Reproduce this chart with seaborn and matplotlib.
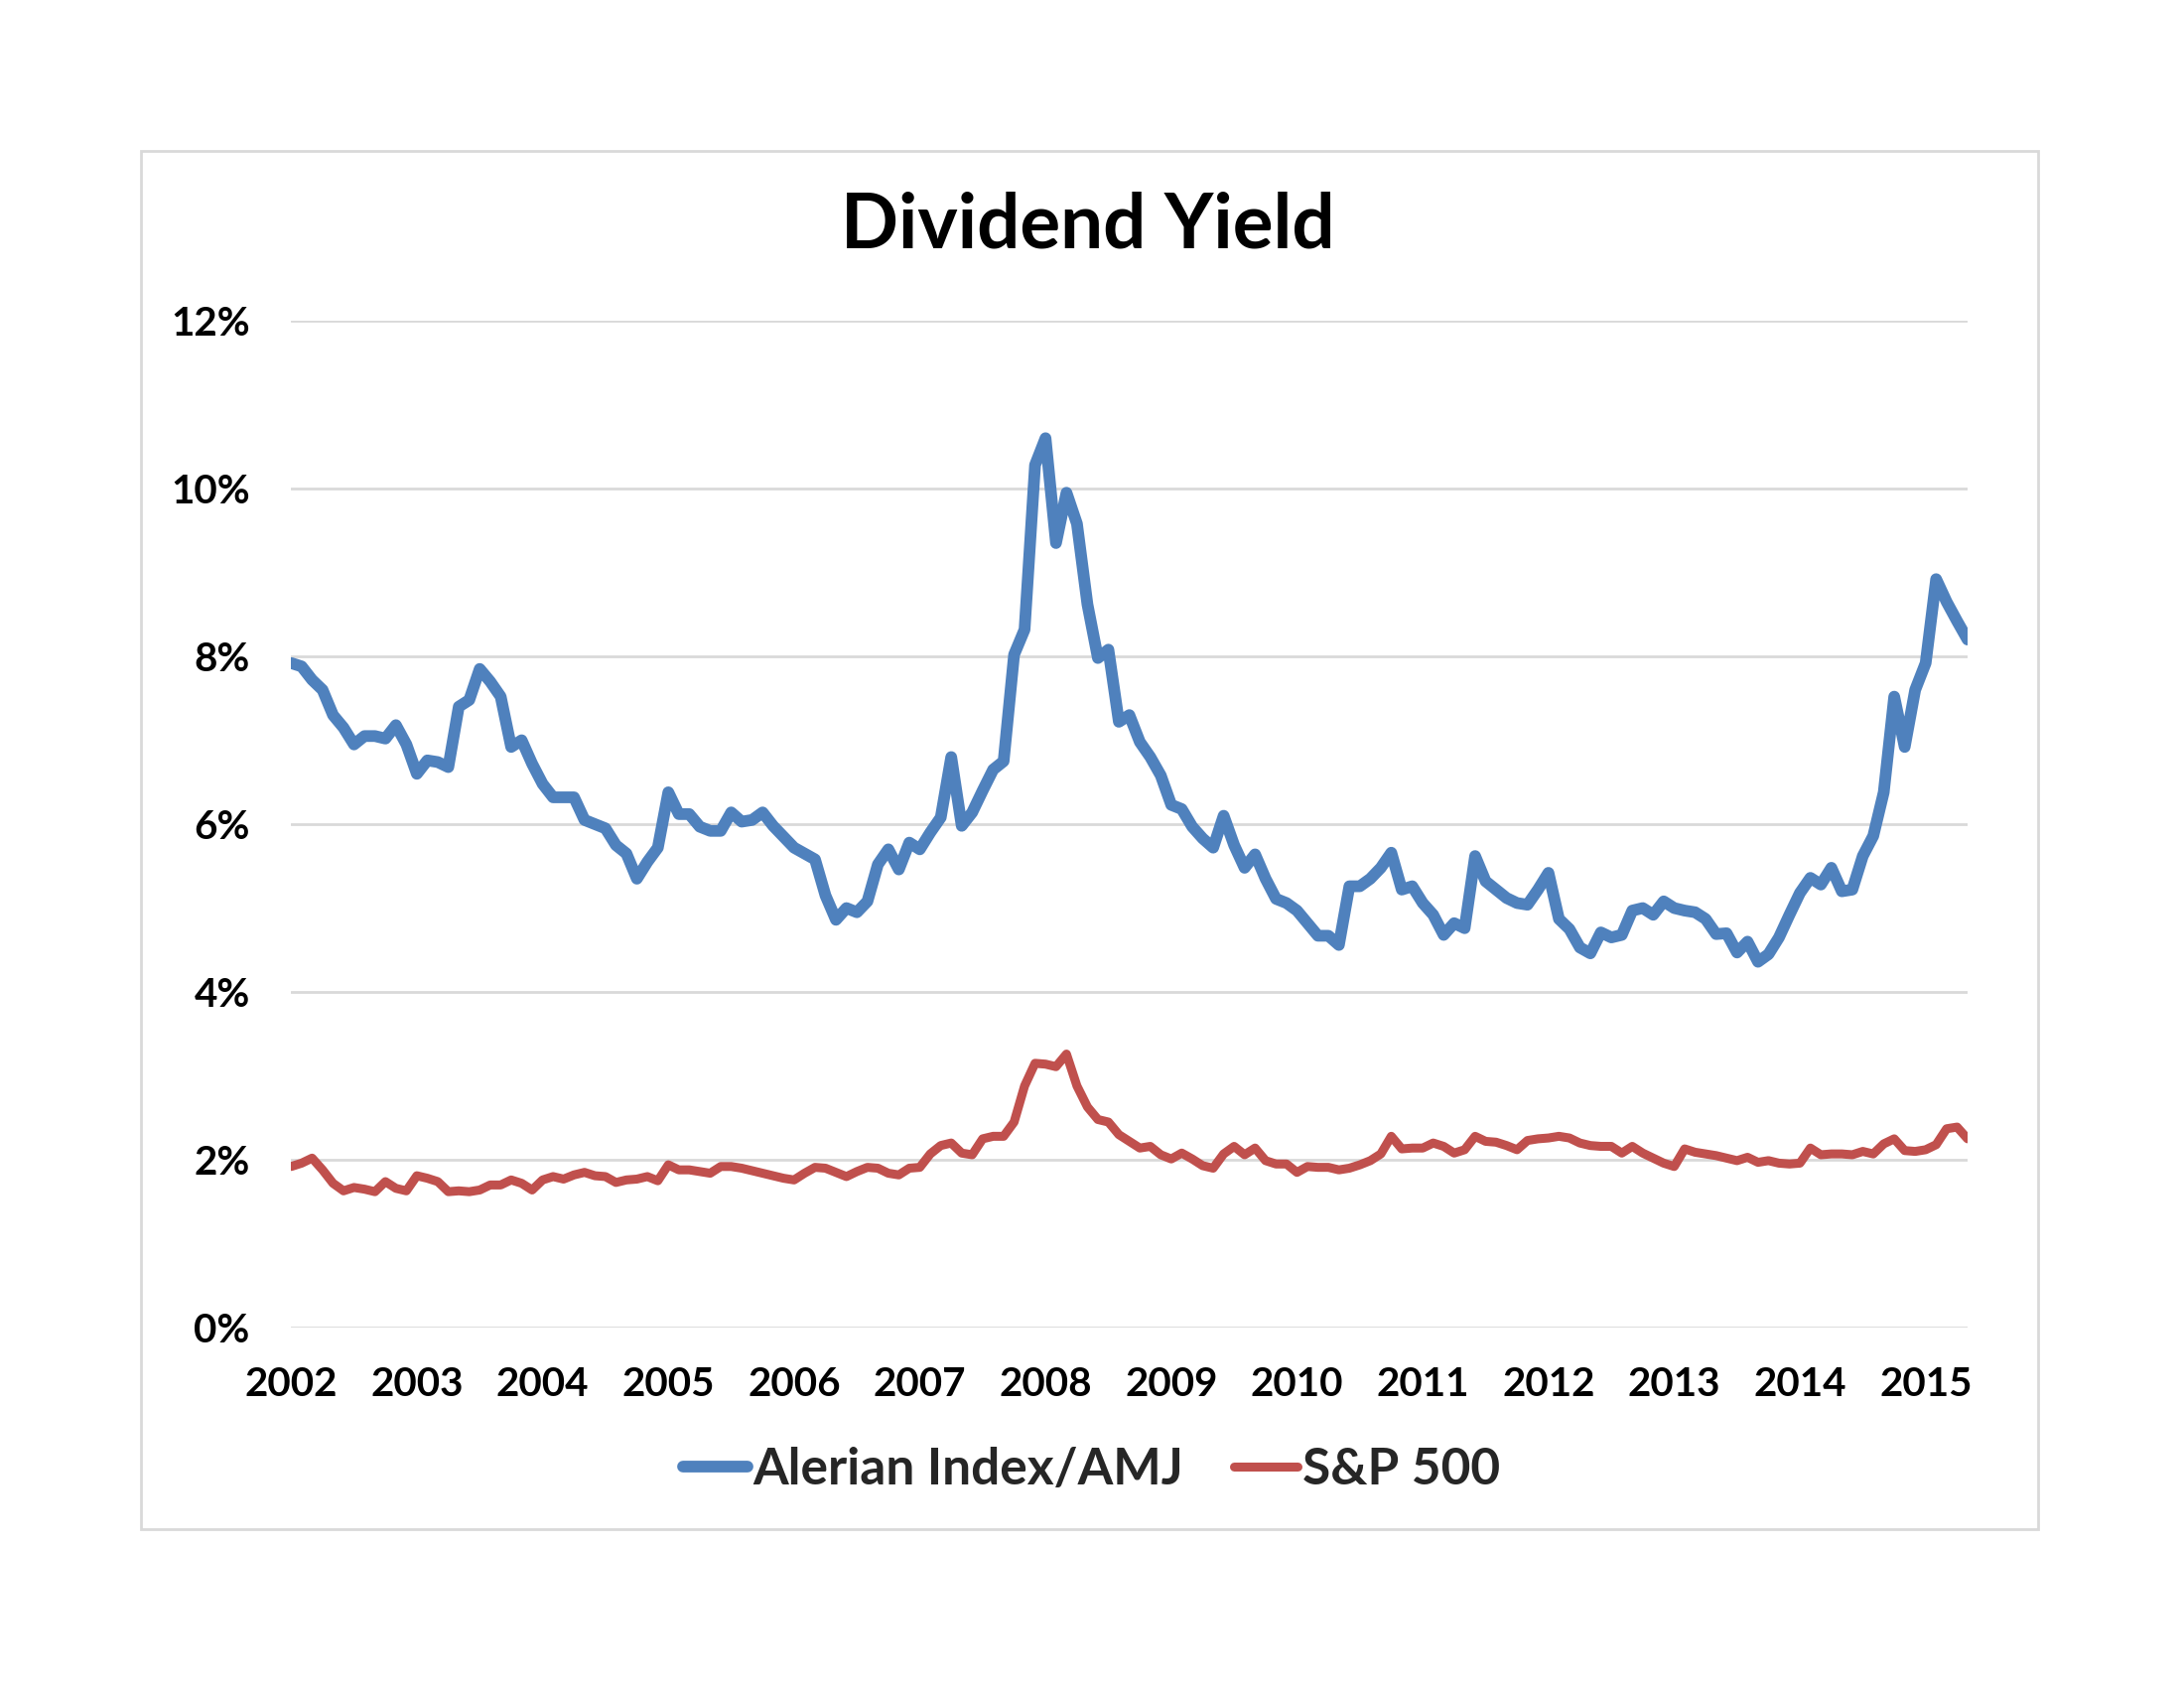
import numpy as np
import pandas as pd
import matplotlib
matplotlib.use("Agg")
import matplotlib.pyplot as plt
from matplotlib.patches import Rectangle
import seaborn as sns

# monthly dividend yield (%), Jan 2002 .. May 2015
alerian = [
    7.92, 7.88, 7.72, 7.60, 7.30, 7.15, 6.95, 7.05, 7.05, 7.02, 7.18, 6.95,
    6.60, 6.76, 6.74, 6.68, 7.40, 7.48, 7.85, 7.70, 7.52, 6.92, 7.00, 6.72,
    6.48, 6.32, 6.32, 6.32, 6.05, 6.00, 5.95, 5.75, 5.65, 5.35, 5.55, 5.72,
    6.38, 6.12, 6.12, 5.97, 5.92, 5.92, 6.14, 6.03, 6.05, 6.14, 5.98, 5.85,
    5.72, 5.65, 5.58, 5.15, 4.86, 5.00, 4.95, 5.08, 5.52, 5.70, 5.46, 5.78,
    5.70, 5.90, 6.08, 6.80, 5.98, 6.14, 6.40, 6.65, 6.75, 8.02, 8.32, 10.28,
    10.60, 9.35, 9.95, 9.58, 8.62, 7.98, 8.08, 7.22, 7.30, 6.98, 6.80, 6.58,
    6.23, 6.18, 5.97, 5.83, 5.72, 6.10, 5.75, 5.48, 5.64, 5.35, 5.11, 5.06,
    4.97, 4.82, 4.67, 4.67, 4.56, 5.26, 5.26, 5.35, 5.48, 5.66, 5.22, 5.26,
    5.06, 4.92, 4.68, 4.82, 4.76, 5.62, 5.32, 5.22, 5.12, 5.06, 5.04, 5.22,
    5.42, 4.87, 4.75, 4.53, 4.46, 4.71, 4.65, 4.68, 4.97, 5.00, 4.92, 5.08,
    5.00, 4.97, 4.95, 4.87, 4.69, 4.70, 4.47, 4.60, 4.36, 4.45, 4.65, 4.92,
    5.18, 5.36, 5.28, 5.48, 5.20, 5.22, 5.62, 5.86, 6.38, 7.52, 6.92, 7.60,
    7.92, 8.92, 8.65, 8.42, 8.20,
]
sp500 = [
    1.92, 1.96, 2.02, 1.88, 1.72, 1.63, 1.67, 1.65, 1.62, 1.74, 1.66, 1.63,
    1.81, 1.78, 1.74, 1.62, 1.63, 1.62, 1.64, 1.70, 1.70, 1.76, 1.72, 1.64,
    1.76, 1.80, 1.77, 1.82, 1.85, 1.81, 1.80, 1.73, 1.76, 1.77, 1.80, 1.75,
    1.94, 1.88, 1.88, 1.86, 1.84, 1.92, 1.92, 1.90, 1.87, 1.84, 1.81, 1.78,
    1.76, 1.84, 1.91, 1.90, 1.85, 1.80, 1.86, 1.91, 1.90, 1.84, 1.82, 1.90,
    1.91, 2.07, 2.17, 2.20, 2.08, 2.06, 2.25, 2.28, 2.28, 2.45, 2.88, 3.15,
    3.14, 3.11, 3.26, 2.88, 2.63, 2.48, 2.45, 2.30, 2.22, 2.14, 2.16, 2.06,
    2.01, 2.08, 2.01, 1.93, 1.90, 2.07, 2.16, 2.06, 2.14, 1.99, 1.95, 1.95,
    1.85, 1.92, 1.91, 1.91, 1.88, 1.90, 1.94, 1.99, 2.07, 2.28, 2.13, 2.14,
    2.14, 2.20, 2.16, 2.08, 2.12, 2.28, 2.22, 2.21, 2.17, 2.12, 2.23, 2.25,
    2.26, 2.28, 2.26, 2.20, 2.17, 2.16, 2.16, 2.08, 2.16, 2.08, 2.02, 1.96,
    1.92, 2.13, 2.09, 2.07, 2.05, 2.02, 1.99, 2.03, 1.97, 1.99, 1.96, 1.95,
    1.96, 2.14, 2.06, 2.07, 2.07, 2.06, 2.10, 2.07, 2.19, 2.25, 2.11, 2.10,
    2.12, 2.18, 2.37, 2.39, 2.25,
]
years = [str(y) for y in range(2002, 2016)]
y_ticks = [0, 2, 4, 6, 8, 10, 12]

months = pd.date_range("2002-01-01", periods=len(alerian), freq="MS")
df = pd.DataFrame({
    "idx": np.arange(len(months)),
    "Alerian Index/AMJ": alerian,
    "S&P 500": sp500,
})

sns.set_theme(style="white")
plt.rcParams["font.family"] = ["Lato", "DejaVu Sans"]
plt.rcParams["font.weight"] = "bold"

fig = plt.figure(figsize=(22, 17), dpi=100)
fig.patch.set_facecolor("white")
ax = fig.add_axes([0.1333, 0.2135, 0.7676, 0.5965])

sns.lineplot(data=df, x="idx", y="Alerian Index/AMJ", ax=ax, color="#4F81BD",
             linewidth=8.5, label="Alerian Index/AMJ", solid_capstyle="round")
sns.lineplot(data=df, x="idx", y="S&P 500", ax=ax, color="#C0504D",
             linewidth=6.5, label="S&P 500", solid_capstyle="round")

ax.set_xlim(0, len(months) - 1)
ax.set_ylim(0, 12)
ax.set_xticks(np.arange(0, len(months), 12))
ax.set_xticklabels(years)
ax.set_yticks(y_ticks)
ax.set_yticklabels([f"{v}%" for v in y_ticks])
ax.set_xlabel("")
ax.set_ylabel("")
ax.yaxis.grid(True, color="#D9D9D9", linewidth=2)
ax.xaxis.grid(False)
for s in ax.spines.values():
    s.set_visible(False)
ax.tick_params(axis="both", length=0, labelsize=29, labelcolor="black")
ax.tick_params(axis="y", pad=30)
ax.tick_params(axis="x", pad=28)
for lab in ax.get_xticklabels() + ax.get_yticklabels():
    lab.set_fontweight("bold")

handles, labels = ax.get_legend_handles_labels()
ax.get_legend().remove()
leg = fig.legend(handles, labels, loc="center", bbox_to_anchor=(0.5, 0.129),
                 ncol=2, frameon=False, prop={"size": 37, "weight": "bold"},
                 handlelength=1.25, columnspacing=1.0, handletextpad=0.1)

fig.text(0.498, 0.866, "Dividend Yield", ha="center", va="center",
         fontsize=55, fontweight="bold", color="black")

fig.patches.append(Rectangle((0.0645, 0.0941), 0.8687, 0.8165,
                             transform=fig.transFigure, fill=False,
                             edgecolor="#D9D9D9", linewidth=2))

fig.savefig("out.png", dpi=100)
